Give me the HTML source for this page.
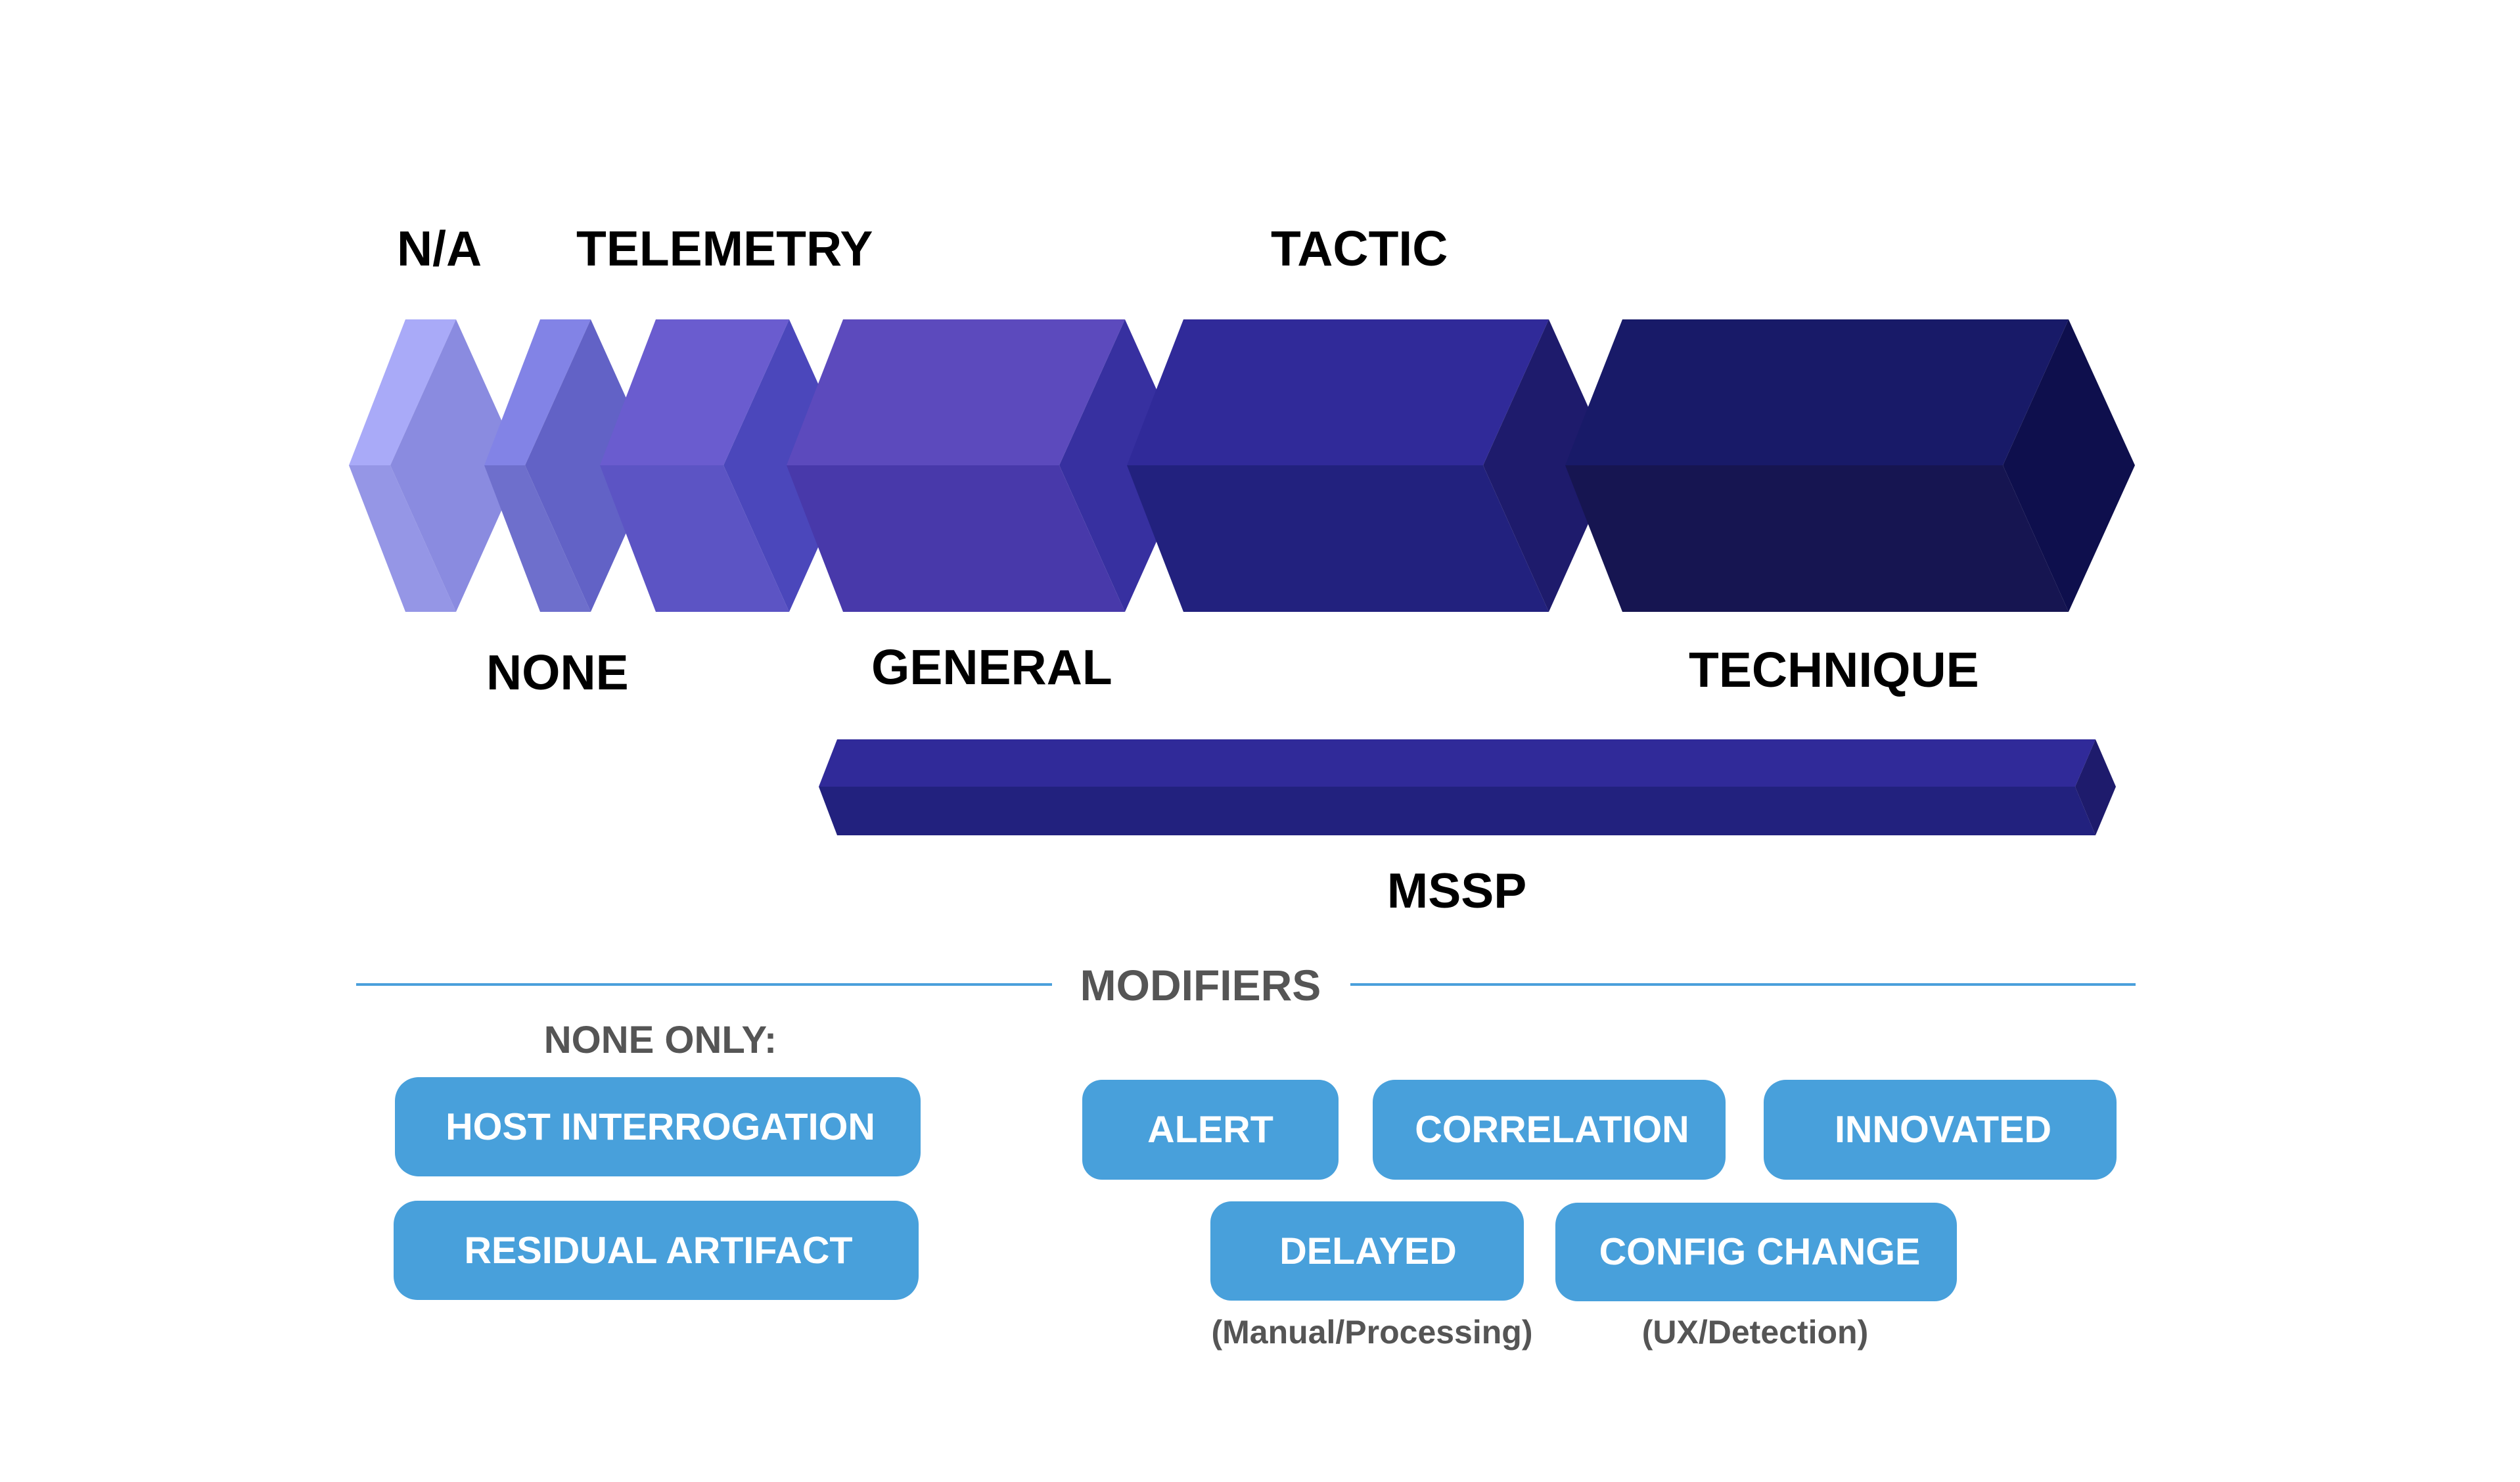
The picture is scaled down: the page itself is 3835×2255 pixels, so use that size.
<!DOCTYPE html>
<html><head><meta charset="utf-8"><style>
html,body{margin:0;padding:0;background:#fff;}
svg{display:block;}
text{font-family:"Liberation Sans",Arial,sans-serif;font-weight:bold;}
</style></head><body>
<svg width="3835" height="2255" viewBox="0 0 3835 2255" xmlns="http://www.w3.org/2000/svg">
<rect width="3835" height="2255" fill="#fff"/>
<polygon points="531,708 617,486 694,486 594,708" fill="#a9aaf8"/>
<polygon points="531,708 594,708 694,931 617,931" fill="#9596e6"/>
<polygon points="694,486 794,708 694,931 594,708" fill="#8a8be0"/>
<polygon points="737,708 822,486 899,486 799,708" fill="#8283e6"/>
<polygon points="737,708 799,708 899,931 822,931" fill="#6e6fcc"/>
<polygon points="899,486 999,708 899,931 799,708" fill="#6262c6"/>
<polygon points="913,708 998,486 1201,486 1101,708" fill="#6a5ccf"/>
<polygon points="913,708 1101,708 1201,931 998,931" fill="#5c54c4"/>
<polygon points="1201,486 1301,708 1201,931 1101,708" fill="#4b47bb"/>
<polygon points="1197,708 1283,486 1712,486 1612,708" fill="#5c4abd"/>
<polygon points="1197,708 1612,708 1712,931 1283,931" fill="#4839aa"/>
<polygon points="1712,486 1812,708 1712,931 1612,708" fill="#3730a0"/>
<polygon points="1715,708 1801,486 2357,486 2257,708" fill="#302a99"/>
<polygon points="1715,708 2257,708 2357,931 1801,931" fill="#22217e"/>
<polygon points="2357,486 2457,708 2357,931 2257,708" fill="#1e1b6c"/>
<polygon points="2382,708 2469,486 3148,486 3048,708" fill="#181a68"/>
<polygon points="2382,708 3048,708 3148,931 2469,931" fill="#161551"/>
<polygon points="3148,486 3249,708 3148,931 3048,708" fill="#0e0f4d"/>

<polygon points="1246,1197 1274,1125 3189,1125 3158,1197" fill="#302a99"/>
<polygon points="1246,1197 3158,1197 3189,1271 1274,1271" fill="#22217e"/>
<polygon points="3189,1125 3220,1197 3189,1271 3158,1197" fill="#1e1b6c"/>

<g font-size="75" fill="#000">
<text x="604" y="404">N/A</text>
<text x="877" y="404">TELEMETRY</text>
<text x="1934" y="404">TACTIC</text>
<text x="740" y="1049">NONE</text>
<text x="1326" y="1041">GENERAL</text>
<text x="2570" y="1045">TECHNIQUE</text>
<text x="2217" y="1381" text-anchor="middle">MSSP</text>
</g>

<line x1="542" y1="1498" x2="1601" y2="1498" stroke="#4a9fdb" stroke-width="4"/>
<line x1="2055" y1="1498" x2="3250" y2="1498" stroke="#4a9fdb" stroke-width="4"/>
<text x="1827" y="1522" font-size="66" fill="#555" text-anchor="middle">MODIFIERS</text>
<text x="1005" y="1602" font-size="58" fill="#555" text-anchor="middle">NONE ONLY:</text>

<g fill="#48a0db">
<rect x="601" y="1639" width="800" height="151" rx="36"/>
<rect x="599" y="1827" width="799" height="151" rx="36"/>
<rect x="1647" y="1643" width="390" height="152" rx="30"/>
<rect x="2089" y="1643" width="537" height="152" rx="34"/>
<rect x="2684" y="1643" width="537" height="152" rx="34"/>
<rect x="1842" y="1828" width="477" height="151" rx="32"/>
<rect x="2367" y="1830" width="611" height="150" rx="34"/>
</g>
<g font-size="57.5" fill="#fff" text-anchor="middle">
<text x="1005" y="1734">HOST INTERROGATION</text>
<text x="1002" y="1922">RESIDUAL ARTIFACT</text>
<text x="1842" y="1738">ALERT</text>
<text x="2362" y="1738">CORRELATION</text>
<text x="2957" y="1738">INNOVATED</text>
<text x="2082" y="1923">DELAYED</text>
<text x="2678" y="1924">CONFIG CHANGE</text>
</g>
<g font-size="50" fill="#555" text-anchor="middle">
<text x="2088" y="2044">(Manual/Processing)</text>
<text x="2671" y="2044">(UX/Detection)</text>
</g>
</svg>
</body></html>
